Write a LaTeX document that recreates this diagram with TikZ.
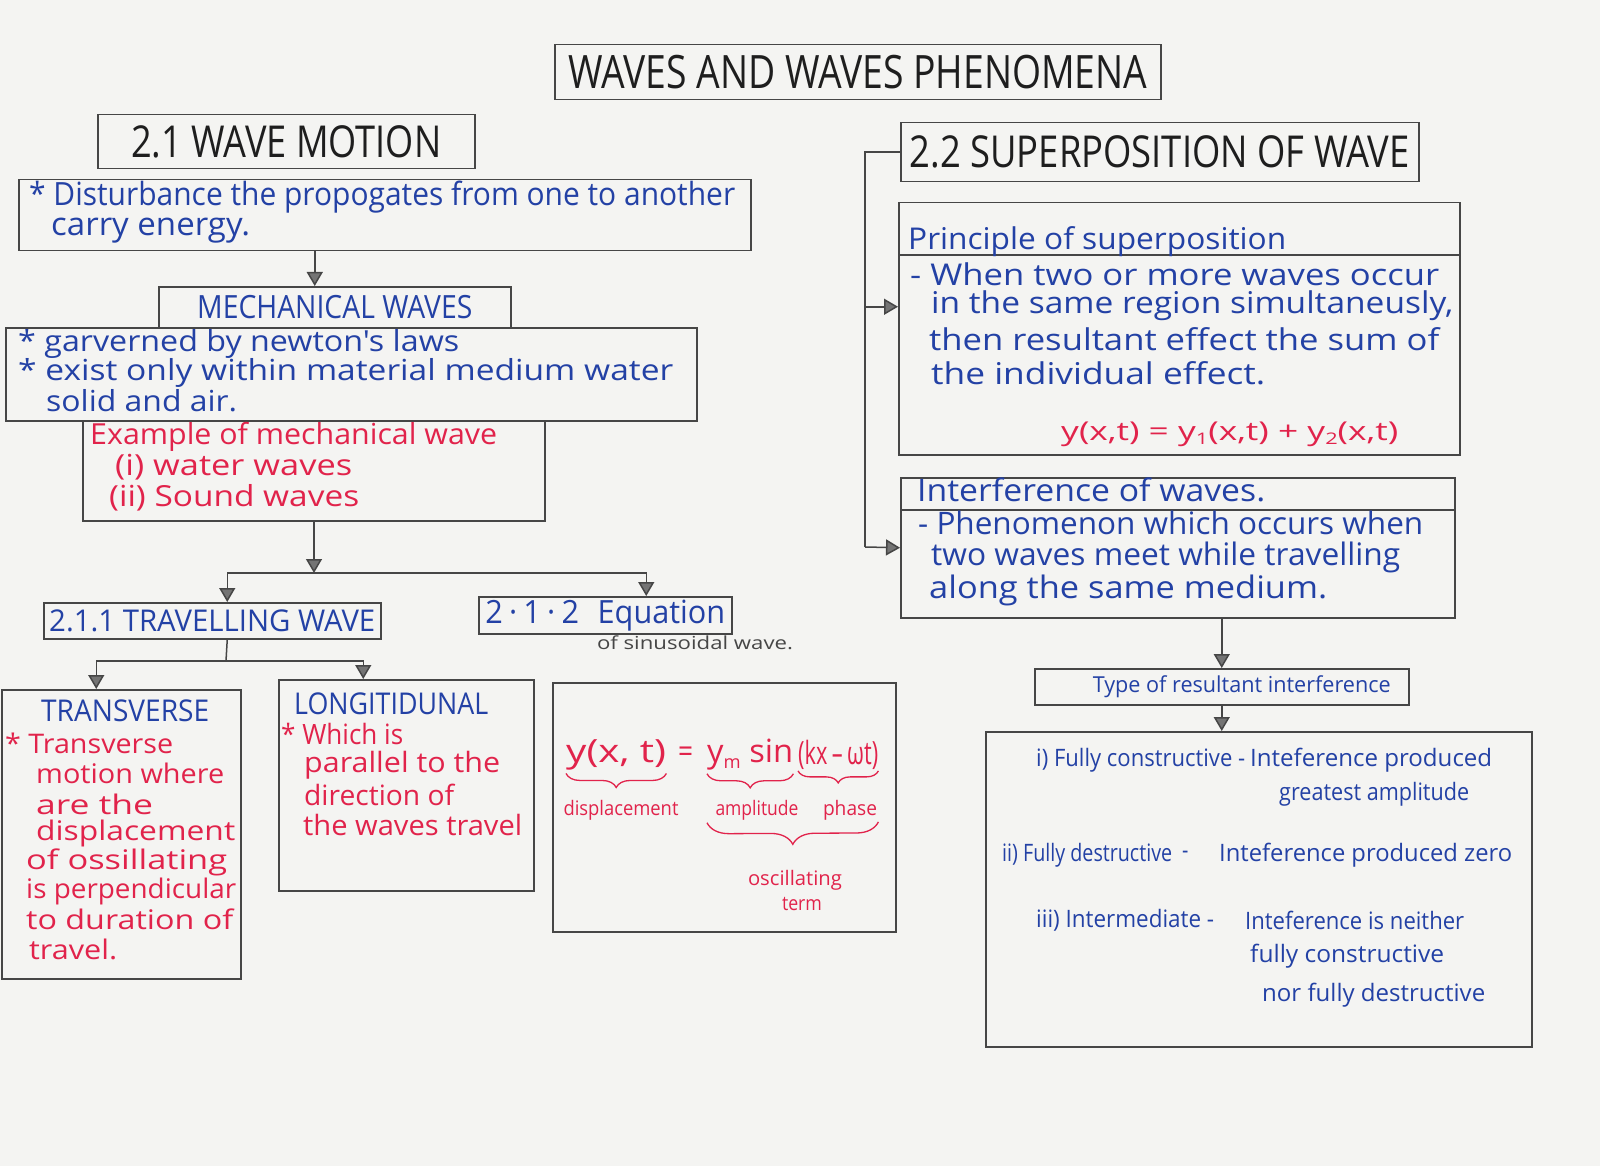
\documentclass[tikz,border=0pt]{standalone}
\usepackage{fontspec}
\usepackage{graphicx}
\newfontfamily\hand[FakeStretch=0.82]{Open Sans}
\usetikzlibrary{arrows.meta,decorations.pathreplacing,calc}
\definecolor{ink}{RGB}{35,65,165}
\definecolor{redink}{RGB}{225,35,75}
\definecolor{pencil}{RGB}{70,70,70}
\definecolor{paper}{RGB}{244,244,242}
\definecolor{dark}{RGB}{30,30,30}
\newcommand\fitw[2]{\resizebox{#1pt}{\height}{#2}}
\begin{document}
\begin{tikzpicture}[x=1pt,y=-1pt,
  box/.style={draw=pencil,line width=1.5pt,anchor=north west,inner sep=0pt,align=center},
  arr/.style={draw=pencil,line width=1.5pt,-{Triangle[width=16pt,length=14pt,fill=pencil!75]}},
  ln/.style={draw=pencil,line width=1.5pt},
  tx/.style={anchor=west,inner sep=0pt},
  fs/.style={font=\hand\fontsize{#1}{#1}\selectfont},
  brc/.style={draw=redink,line width=1.3pt,decorate,decoration={brace,amplitude=#1}},
]
\fill[paper] (0,0) rectangle (1600,1166);
\useasboundingbox (0,0) rectangle (1600,1166);

% ---------- boxes ----------
\node[box,minimum width=606pt,minimum height=55pt,fs=46,text=dark] (title) at (554,44) {\fitw{579}{WAVES AND WAVES PHENOMENA}};
\node[box,minimum width=377pt,minimum height=54pt,fs=44,text=dark] (wm) at (97,114) {\fitw{310}{2.1 WAVE MOTION}};
\node[box,minimum width=732pt,minimum height=71pt] (dist) at (18,179) {};
\node[box,minimum width=352pt,minimum height=41pt,fs=32,text=ink] (mech) at (158,286) {\fitw{275}{MECHANICAL WAVES}};
\node[box,minimum width=691pt,minimum height=93pt] (newt) at (5,327) {};
\node[box,minimum width=462pt,minimum height=100pt] (exb) at (82,420) {};
\node[box,minimum width=337pt,minimum height=36pt,fs=30,text=ink] (tw) at (43,602) {\fitw{326}{2.1.1 TRAVELLING WAVE}};
\node[box,minimum width=253pt,minimum height=37pt,fs=32,text=ink] (eqh) at (478,596) {\fitw{240}{2\,·\,1\,·\,2\enspace Equation}};
\node[box,minimum width=239pt,minimum height=289pt] (tr) at (1,689) {};
\node[box,minimum width=255pt,minimum height=211pt] (lg) at (278,679) {};
\node[box,minimum width=343pt,minimum height=249pt] (eqb) at (552,682) {};
\node[box,minimum width=518pt,minimum height=59pt,fs=44,text=dark] (sp) at (900,122) {\fitw{500}{2.2 SUPERPOSITION OF WAVE}};
\node[box,minimum width=561pt,minimum height=252pt] (pr) at (898,202) {};
\node[box,minimum width=554pt,minimum height=140pt] (int) at (900,477) {};
\node[box,minimum width=374pt,minimum height=36pt,fs=22,text=ink] (typ) at (1034,668) {\hspace*{40pt}\fitw{298}{Type of resultant interference}};
\node[box,minimum width=546pt,minimum height=315pt] (bot) at (985,731) {};

% heading rules
\draw[ln] ($(pr.north west)+(0,53)$) -- ($(pr.north east)+(0,53)$);
\draw[ln] ($(int.north west)+(0,33)$) -- ($(int.north east)+(0,33)$);

% ---------- connectors ----------
\draw[arr] ([xshift=-20pt]mech.north |- dist.south) -- ([xshift=-20pt]mech.north);
\coordinate (j1) at (314,573);
\draw[arr] (exb.south -| j1) -- (j1);
\draw[arr] (j1) -| ([xshift=15pt]tw.north);
\draw[arr] (j1) -| ([xshift=41pt]eqh.north);
\coordinate (j2) at (226,661);
\draw[ln] ([xshift=15pt]tw.south) -- (j2);
\draw[arr] (j2) -| ([xshift=-25pt]tr.north);
\draw[arr] (j2) -| ([xshift=-43pt]lg.north);
\coordinate (bk) at (865,547);
\draw[ln] (sp.west) -| (bk);
\draw[arr] ([yshift=22pt]pr.west -| bk) -- ([yshift=22pt]pr.west);
\draw[arr] (bk) -- (int.west);
\draw[arr] (typ.north |- int.south) -- (typ.north);
\draw[arr] (typ.south) -- (typ.south |- bot.north);

% ---------- left column texts ----------
\node[tx,fs=32,text=ink] (d1) at (29,197) {\fitw{706}{* Disturbance the propogates from one to another}};
\node[tx,fs=32,text=ink] (d2) at (51,231) {\fitw{199}{carry energy.}};

\node[tx,fs=29,text=ink] (n1) at (18,344) {\fitw{441}{* garverned by newton's laws}};
\node[tx,fs=29,text=ink] (n2) at (18,373) {\fitw{655}{* exist only within material medium water}};
\node[tx,fs=29,text=ink] (n3) at (46,401) {\fitw{191}{solid and air.}};

\node[tx,fs=29,text=redink] (e1) at (90,437) {\fitw{407}{Example of mechanical wave}};
\node[tx,fs=29,text=redink] (e2) at (115,467) {\fitw{237}{(i) water waves}};
\node[tx,fs=29,text=redink] (e3) at (109,498) {\fitw{250}{(ii) Sound waves}};

\node[fs=18,text=pencil,inner sep=0pt] (sin) at (695,643) {\fitw{196}{of sinusoidal wave.}};

\node[tx,fs=30,text=ink] (trh) at (41,711) {\fitw{168}{TRANSVERSE}};
\node[tx,fs=27,text=redink] (r1) at (5,743) {\fitw{168}{* Transverse}};
\node[tx,fs=27,text=redink] (r2) at (36,773) {\fitw{188}{motion where}};
\node[tx,fs=27,text=redink] (r3) at (36,804) {\fitw{117}{are the}};
\node[tx,fs=27,text=redink] (r4) at (36,833) {\fitw{199}{displacement}};
\node[tx,fs=27,text=redink] (r5) at (26,862) {\fitw{201}{of ossillating}};
\node[tx,fs=27,text=redink] (r6) at (26,891) {\fitw{210}{is perpendicular}};
\node[tx,fs=27,text=redink] (r7) at (26,919) {\fitw{207}{to duration of}};
\node[tx,fs=27,text=redink] (r8) at (29,949) {\fitw{88}{travel.}};

\node[tx,fs=30,text=ink] (lgh) at (294,704) {\fitw{194}{LONGITIDUNAL}};
\node[tx,fs=28,text=redink] (g1) at (281,734) {\fitw{122}{* Which is}};
\node[tx,fs=28,text=redink] (g2) at (304,765) {\fitw{196}{parallel to the}};
\node[tx,fs=28,text=redink] (g3) at (304,795) {\fitw{150}{direction of}};
\node[tx,fs=28,text=redink] (g4) at (303,825) {\fitw{219}{the waves travel}};

% ---------- equation ----------
\node[tx,fs=32,text=redink] (f1) at (566,755) {\fitw{100}{y(x, t)}};
\node[tx,fs=32,text=redink] (feq) at (678,755) {=};
\node[tx,fs=32,text=redink] (f2) at (707,755) {\fitw{86}{y\raisebox{-0.3ex}{\fontsize{18}{18}\selectfont m} sin}};
\node[tx,fs=32,text=redink] (f3) at (798,755) {\fitw{80}{(kx\,–\,ωt)}};
\draw[brc=14pt] ([yshift=-3pt]f1.south east) -- ([yshift=-3pt]f1.south west);
\draw[brc=14pt] ([yshift=-3pt]f2.south east) -- ([yshift=-3pt]f2.south west);
\draw[brc=12pt] ([yshift=-1pt]f3.south east) -- ([yshift=-1pt]f3.south west);
\draw[brc=22pt] ([yshift=-52pt]f3.south east) -- ([yshift=-52pt]f2.south west);
\node[fs=20,text=redink,inner sep=0pt] (l1) at (621,810) {\fitw{115}{displacement}};
\node[fs=20,text=redink,inner sep=0pt] (l2) at (757,810) {\fitw{83}{amplitude}};
\node[fs=20,text=redink,inner sep=0pt] (l3) at (850,810) {\fitw{54}{phase}};
\node[fs=20,text=redink,inner sep=0pt] (l4) at (795,880) {\fitw{94}{oscillating}};
\node[fs=20,text=redink,inner sep=0pt] (l5) at (802,904) {\fitw{40}{term}};

% ---------- right column texts ----------
\node[tx,fs=30,text=ink] (p0) at (908,242) {\fitw{378}{Principle of superposition}};
\node[tx,fs=30,text=ink] (p1) at (910,274) {\fitw{529}{- When two or more waves occur}};
\node[tx,fs=30,text=ink] (p2) at (931,306) {\fitw{522}{in the same region simultaneusly,}};
\node[tx,fs=30,text=ink] (p3) at (929,339) {\fitw{510}{then resultant effect the sum of}};
\node[tx,fs=30,text=ink] (p4) at (931,373) {\fitw{334}{the individual effect.}};
\node[tx,fs=26,text=redink] (pf) at (1061,434) {\fitw{337}{y(x,t) = y\raisebox{-0.3ex}{\fontsize{16}{16}\selectfont 1}(x,t) + y\raisebox{-0.3ex}{\fontsize{16}{16}\selectfont 2}(x,t)}};

\node[tx,fs=31,text=ink] (i0) at (917,490) {\fitw{348}{Interference of waves.}};
\node[tx,fs=31,text=ink] (i1) at (918,523) {\fitw{505}{- Phenomenon which occurs when}};
\node[tx,fs=31,text=ink] (i2) at (931,557) {\fitw{469}{two waves meet while travelling}};
\node[tx,fs=31,text=ink] (i3) at (929,590) {\fitw{398}{along the same medium.}};

\node[tx,fs=24,text=ink] (b1) at (1036,760) {\fitw{209}{i) Fully constructive -}};
\node[tx,fs=24,text=ink] (b1b) at (1250,760) {\fitw{242}{Inteference produced}};
\node[tx,fs=24,text=ink] (b1c) at (1279,794) {\fitw{190}{greatest amplitude}};
\node[tx,fs=24,text=ink] (b2) at (1002,855) {\fitw{170}{ii) Fully destructive}};
\node[tx,fs=24,text=ink] (b2a) at (1182,855) {-};
\node[tx,fs=24,text=ink] (b2b) at (1219,855) {\fitw{293}{Inteference produced zero}};
\node[tx,fs=24,text=ink] (b3) at (1036,920) {\fitw{178}{iii) Intermediate -}};
\node[tx,fs=24,text=ink] (b3b) at (1245,920) {\fitw{219}{Inteference is neither}};
\node[tx,fs=24,text=ink] (b3c) at (1250,956) {\fitw{194}{fully constructive}};
\node[tx,fs=24,text=ink] (b3d) at (1262,995) {\fitw{223}{nor fully destructive}};
\end{tikzpicture}
\end{document}
